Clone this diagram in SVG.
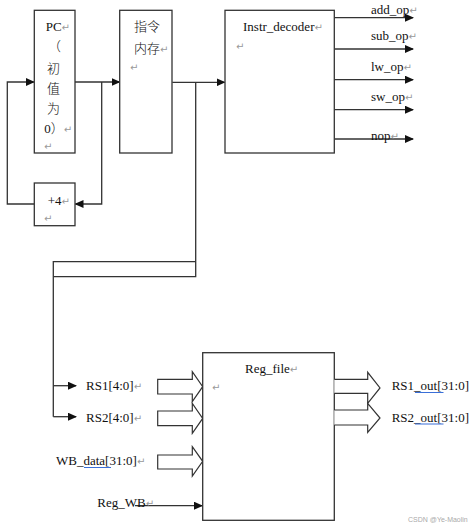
<svg xmlns="http://www.w3.org/2000/svg" width="474" height="526" viewBox="0 0 474 526">
<style>
.box{fill:#fff;stroke:#333;stroke-width:1.3}
.ln{fill:none;stroke:#333;stroke-width:1.3}
.ar{marker-end:url(#ah)}
.blk{fill:#fff;stroke:#333;stroke-width:1.2}
text{font-family:"Liberation Serif","Noto Sans CJK SC",serif;font-size:13px;fill:#111}
.cjk{font-family:"Noto Sans CJK SC","Liberation Serif",sans-serif;font-size:13px;font-weight:300}
.pm{font-family:"DejaVu Sans",sans-serif;font-size:10px;fill:#999;font-weight:normal}
.ul{stroke:#3a6fd8;stroke-width:1;fill:none}
.wm{font-family:"Liberation Sans",sans-serif;font-size:7px;fill:#aaa}
</style>
<defs>
<marker id="ah" markerWidth="9" markerHeight="8" refX="8" refY="4" orient="auto" markerUnits="userSpaceOnUse">
<path d="M0,0 L9,4 L0,8 Z" fill="#111"/>
</marker>
</defs>

<g id="connectors">
<path class="ln ar" d="M75,82 H119.5"/>
<path class="ln ar" d="M101.7,82 V204 H75.5"/>
<path class="ln ar" d="M34.3,204 H7.3 V82 H33.8"/>
<path class="ln ar" d="M172.3,82.3 H224.5"/>
<path class="ln" d="M195.7,82.3 V276.7 H53.3"/>
<path class="ln" d="M195.7,261.7 H53.3 V416.7"/>
<path class="ln ar" d="M53.3,385.7 H76"/>
<path class="ln ar" d="M53.3,416.7 H76"/>
<path class="ln ar" d="M334.3,17.7 H413"/>
<path class="ln ar" d="M334.3,49 H413"/>
<path class="ln ar" d="M334.3,79.7 H413"/>
<path class="ln ar" d="M334.3,109.7 H413"/>
<path class="ln ar" d="M334.3,139 H413"/>
<path class="ln ar" d="M135,505.7 H202"/>
<path class="blk" d="M157.7,379.3 H192.3 V371.7 L202.7,386.7 L192.3,401.7 V394 H157.7 Z"/>
<path class="blk" d="M157.7,411 H192.3 V403.4 L202.7,418.4 L192.3,433.4 V425.7 H157.7 Z"/>
<path class="blk" d="M157.7,455 H192.3 V446.7 L202.7,461.3 L192.3,476 V469 H157.7 Z"/>
</g>

<g id="pc">
<rect class="box" x="34.3" y="10.3" width="40.7" height="142.7"/>
<text x="45.7" y="31">PC<tspan class="pm">↵</tspan></text>
<text class="cjk" x="48" y="51">（</text>
<text class="cjk" x="47" y="73">初</text>
<text class="cjk" x="47" y="93">值</text>
<text class="cjk" x="47" y="113">为</text>
<text x="44.3" y="133">0<tspan class="cjk">）</tspan><tspan class="pm">↵</tspan></text>
<text class="pm" x="44" y="150">↵</text>
</g>

<g id="plus4">
<rect class="box" x="34.3" y="183" width="40.7" height="42.7"/>
<text x="47.7" y="205">+4<tspan class="pm">↵</tspan></text>
<text class="pm" x="44" y="222">↵</text>
</g>

<g id="instr_mem">
<rect class="box" x="119.7" y="10.3" width="52.3" height="142.7"/>
<text class="cjk" x="134" y="31">指令</text>
<text class="cjk" x="134" y="52.5">内存<tspan class="pm">↵</tspan></text>
<text class="pm" x="130" y="71">↵</text>
</g>

<g id="instr_decoder">
<rect class="box" x="225" y="10.3" width="109.3" height="142.7"/>
<text x="243" y="30.7">Instr_decoder<tspan class="pm">↵</tspan></text>
<text class="pm" x="236" y="50">↵</text>
</g>

<g id="decoder_labels">
<text x="371" y="14">add_op<tspan class="pm">↵</tspan></text>
<text x="371" y="40">sub_op<tspan class="pm">↵</tspan></text>
<text x="371" y="70.5">lw_op<tspan class="pm">↵</tspan></text>
<text x="371" y="100.5">sw_op<tspan class="pm">↵</tspan></text>
<text x="371" y="140">nop<tspan class="pm">↵</tspan></text>
</g>

<g id="reg_file">
<rect class="box" x="202.7" y="352.7" width="131.6" height="167.6"/>
<text x="245" y="372.7">Reg_file<tspan class="pm">↵</tspan></text>
<text class="pm" x="212" y="391">↵</text>
</g>

<g id="reg_inputs">
<text x="86" y="390">RS1[4:0]<tspan class="pm">↵</tspan></text>
<text x="86" y="421.7">RS2[4:0]<tspan class="pm">↵</tspan></text>
<text x="56" y="465">WB_data[31:0]<tspan class="pm">↵</tspan></text>
<path class="ul" d="M84,467.5 H111"/>
<text x="97.3" y="506.7">Reg_WB<tspan class="pm">↵</tspan></text>
</g>

<g id="reg_outputs">
<path class="blk" d="M334.3,379.3 H367.7 V372.3 L380,388 L367.7,403.3 V393.3 H334.3"/>
<path class="blk" d="M334.3,410 H367.7 V403.3 L380,418 L367.7,432.3 V425 H334.3"/>
<text x="391.7" y="390">RS1_out[31:0]</text>
<text x="391.7" y="421.7">RS2_out[31:0]</text>
<path class="ul" d="M415,392.5 H443.5"/>
<path class="ul" d="M415,424 H443.5"/>
</g>

<text class="wm" x="408" y="522">CSDN @Ye-Maolin</text>
</svg>
